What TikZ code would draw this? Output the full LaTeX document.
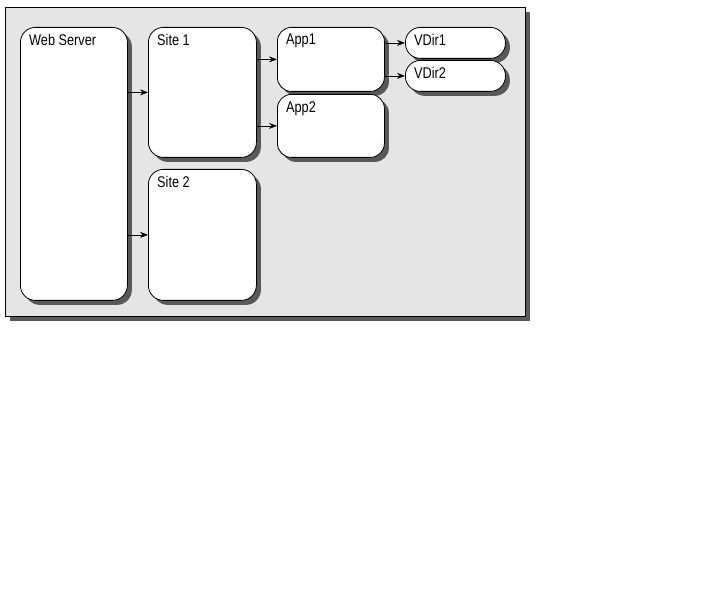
\documentclass[tikz,border=0pt]{standalone}
\usepackage{fontspec}
\setmainfont[FakeStretch=0.82]{Liberation Sans}
\usetikzlibrary{shadows,arrows.meta}
\begin{document}
\begin{tikzpicture}[x=1pt,y=-1pt,
  sh/.style={drop shadow={shadow xshift=4.5pt,shadow yshift=-4.5pt,opacity=1,fill=black!65}},
  boxn/.style={draw=black,fill=white,line width=0.8pt,rounded corners=15pt,sh,anchor=north west,inner sep=0pt},
  lbl/.style={label={[anchor=north west,inner sep=0pt,xshift=9pt,yshift=-7pt,font=\fontsize{15.5}{18}\selectfont]north west:#1}},
  arr/.style={-{Stealth[length=8pt,width=6pt]},line width=0.7pt}]
\useasboundingbox (0,0) rectangle (718,604);
\node[draw=black,fill=black!10,line width=0.8pt,sh,anchor=north west,minimum width=520pt,minimum height=309pt,inner sep=0pt] (bg) at (5,7) {};
\node[boxn,minimum width=107pt,minimum height=273pt,lbl={Web Server}] (ws) at (20,27) {};
\node[boxn,minimum width=108pt,minimum height=130pt,lbl={Site 1}] (s1) at (148,27) {};
\node[boxn,minimum width=108pt,minimum height=131pt,lbl={Site 2}] (s2) at (148,169) {};
\node[boxn,minimum width=107pt,minimum height=64pt,rounded corners=14pt,lbl={App1}] (a1) at (277,27) {};
\node[boxn,minimum width=107pt,minimum height=63pt,rounded corners=14pt,lbl={App2}] (a2) at (277,94) {};
\node[boxn,minimum width=100pt,minimum height=31pt,rounded corners=15pt,lbl={VDir1}] (v1) at (405,27) {};
\node[boxn,minimum width=100pt,minimum height=31pt,rounded corners=15pt,lbl={VDir2}] (v2) at (405,60) {};
\draw[arr] (ws.east |- s1.west) -- (s1.west);
\draw[arr] (ws.east |- s2.west) -- (s2.west);
\draw[arr] (s1.east |- a1.west) -- (a1.west);
\draw[arr] (s1.east |- a2.west) -- (a2.west);
\draw[arr] (a1.east |- v1.west) -- (v1.west);
\draw[arr] (a1.east |- v2.west) -- (v2.west);
\end{tikzpicture}
\end{document}
